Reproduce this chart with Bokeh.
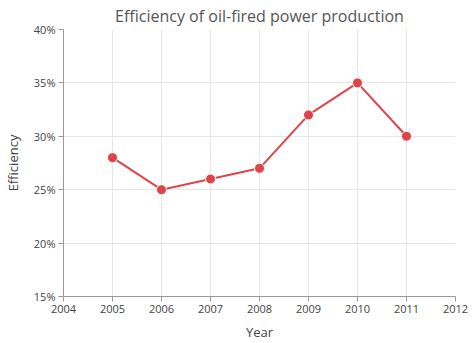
from bokeh.plotting import figure
from bokeh.models import FixedTicker, NumeralTickFormatter, Range1d, ColumnDataSource
from bokeh.embed import file_html
from bokeh.resources import INLINE

title_text = "Efficiency of oil-fired power production"
years = [2005, 2006, 2007, 2008, 2009, 2010, 2011]
efficiency = [0.28, 0.25, 0.26, 0.27, 0.32, 0.35, 0.30]
x_ticks = [2004, 2005, 2006, 2007, 2008, 2009, 2010, 2011, 2012]
y_ticks = [0.15, 0.20, 0.25, 0.30, 0.35, 0.40]

FONT = "Open Sans"
RED = "#e0434a"

p = figure(width=474, height=343, output_backend="svg", toolbar_location=None,
           x_range=Range1d(x_ticks[0], x_ticks[-1]), y_range=Range1d(y_ticks[0], y_ticks[-1]),
           min_border_left=63, min_border_right=19, min_border_top=0, min_border_bottom=46)
p.title.text = title_text
p.title.align = "center"
p.title.text_font = FONT
p.title.text_font_size = "16px"
p.title.text_font_style = "normal"
p.title.text_color = "#555555"
p.title.offset = 0
p.title.standoff = 5
p.outline_line_color = None

src = ColumnDataSource(dict(x=years, y=efficiency))
p.line("x", "y", source=src, line_color=RED, line_width=2)
p.scatter("x", "y", source=src, size=10, fill_color=RED, line_color="white", line_width=1)

p.xaxis.ticker = FixedTicker(ticks=x_ticks)
p.yaxis.ticker = FixedTicker(ticks=y_ticks)
p.yaxis.formatter = NumeralTickFormatter(format="0%")
p.xaxis.axis_label = "Year"
p.yaxis.axis_label = "Efficiency"
for ax in (p.xaxis, p.yaxis):
    ax.axis_line_color = "#999999"
    ax.major_tick_line_color = "#999999"
    ax.major_tick_out = 5
    ax.major_tick_in = 0
    ax.minor_tick_line_color = None
    ax.major_label_text_font = FONT
    ax.major_label_text_font_size = "11px"
    ax.major_label_text_color = "#444444"
    ax.axis_label_text_font = FONT
    ax.axis_label_text_font_size = "13px"
    ax.axis_label_text_font_style = "normal"
    ax.axis_label_text_color = "#444444"
p.yaxis.major_label_standoff = 3
p.xaxis.major_label_standoff = 3
p.xaxis.axis_label_standoff = 7
p.yaxis.axis_label_standoff = 9
p.xgrid.grid_line_color = "#e6e6e6"
p.ygrid.grid_line_color = "#e6e6e6"

open("out.html", "w").write(file_html(p, INLINE))
